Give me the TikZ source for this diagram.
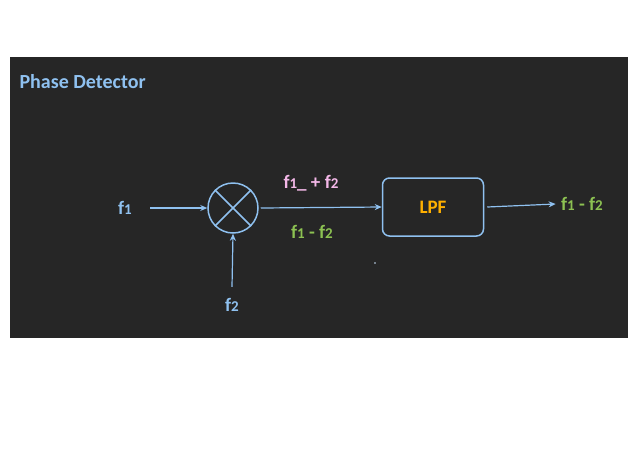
\documentclass[tikz,border=0pt]{standalone}
\usepackage{fontspec}
\setmainfont{Carlito}
\definecolor{bg}{HTML}{262626}
\definecolor{lb}{HTML}{8FC1F0}
\definecolor{pk}{HTML}{F4B8E8}
\definecolor{gr}{HTML}{8CC152}
\definecolor{og}{HTML}{FFB000}
\tikzset{conn/.style={lb,line width=1.2pt,-{Stealth[length=7pt,width=6pt]}},
lbl/.style={font=\bfseries\fontsize{19}{22}\selectfont}}
\usetikzlibrary{arrows.meta}
\newcommand{\sm}[1]{{\fontsize{15}{16}\selectfont #1}}
\begin{document}
\begin{tikzpicture}[x=1pt,y=-1pt]
\useasboundingbox (0,0) rectangle (638,451);
\fill[white] (0,0) rectangle (638,451);
\fill[bg] (10,57) rectangle (628,338);
\node[lb,anchor=west,font=\bfseries\fontsize{20}{24}\selectfont] (title) at (16,82) {Phase Detector};
\node[lb,lbl] (f1) at (125,208) {f\sm{1}};
\node[draw=lb,line width=1.5pt,circle,minimum size=50pt] (mix) at (233,208) {};
\draw[lb,line width=1.5pt] (mix.north west)--(mix.south east) (mix.north east)--(mix.south west);
\node[lb,lbl] (f2) at (232,305) {f\sm{2}};
\node[draw=lb,line width=1.5pt,rounded corners=7pt,minimum width=101pt,minimum height=58pt,text=og,lbl] (lpf) at (433,207) {LPF};
\node[pk,lbl] (sum) at (311,183) {f\sm{1}\_ + f\sm{2}};
\node[gr,lbl] (diff) at (312,232) {f\sm{1} - f\sm{2}};
\node[gr,lbl] (out) at (582,204) {f\sm{1} - f\sm{2}};
\draw[conn] (f1.east)++(15,0) -- (mix.west);
\draw[conn] (f2.north)++(0,-8) -- (mix.south);
\draw[conn] (mix.east)++(2,0) -- (lpf.west);
\draw[conn] (lpf.east)++(3,0) -- ([xshift=-2pt]out.west);
\fill[lb!50!white] (375,263) circle (0.8);
\end{tikzpicture}
\end{document}
